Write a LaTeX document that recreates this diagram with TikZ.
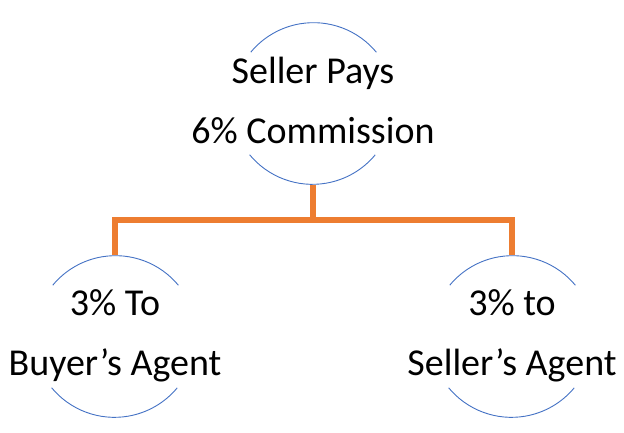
\documentclass[tikz,border=0pt]{standalone}
\usepackage{fontspec}
\setmainfont{Carlito}
\definecolor{arcblue}{HTML}{4472C4}
\definecolor{busorange}{HTML}{ED7D31}
\tikzset{
  circ/.style={circle, minimum size=163pt, inner sep=0pt, outer sep=0pt},
  rim/.style={draw=arcblue, line width=0.9pt},
  label/.style={align=center, anchor=base, inner sep=0pt, font=\fontsize{38}{59.5}\selectfont},
  bus/.style={draw=busorange, line width=5.5pt, line join=miter}
}
\begin{document}
\begin{tikzpicture}[x=1pt,y=1pt]
\useasboundingbox (0,0) rectangle (624,-432);
\node[circ] (top) at (313,-103.5) {};
\node[circ] (left) at (115,-336.5) {};
\node[circ] (right) at (512,-336.5) {};
\foreach \c in {top,left,right}{
  \draw[rim] (\c.39.6) arc[start angle=39.6, end angle=140.4, radius=81.5pt];
  \draw[rim] (\c.219.6) arc[start angle=219.6, end angle=320.4, radius=81.5pt];
}
\node[label] (toptext) at (313,-143) {Seller Pays\\6\% Commission};
\node[label] (lefttext) at (115,-375) {3\% To\\Buyer’s Agent};
\node[label] (righttext) at (512,-375) {3\% to\\Seller’s Agent};
\coordinate (busmid) at (313,-220);
\draw[bus] (top.south) -- (busmid);
\draw[bus] (left.north) |- (busmid) -| (right.north);
\end{tikzpicture}
\end{document}
